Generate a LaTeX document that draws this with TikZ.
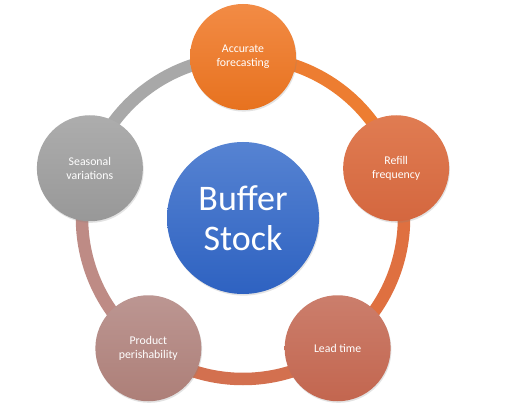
\documentclass[tikz,border=0pt]{standalone}
\usepackage{fontspec}
\setmainfont{Carlito}
\usetikzlibrary{shadows}
\definecolor{cA}{HTML}{ED7D31}
\definecolor{cAt}{HTML}{F28B45}
\definecolor{cAb}{HTML}{E7721F}
\definecolor{cR}{HTML}{DF7040}
\definecolor{cRt}{HTML}{E07C52}
\definecolor{cRb}{HTML}{D4673F}
\definecolor{cL}{HTML}{D3704F}
\definecolor{cLt}{HTML}{CB7E6C}
\definecolor{cLb}{HTML}{C3664F}
\definecolor{cP}{HTML}{BE8B85}
\definecolor{cPt}{HTML}{BC9692}
\definecolor{cPb}{HTML}{AD7F78}
\definecolor{cS}{HTML}{A8A8A8}
\definecolor{cSt}{HTML}{ADADAD}
\definecolor{cSb}{HTML}{989898}
\definecolor{cBt}{HTML}{5683D2}
\definecolor{cBb}{HTML}{2E62C1}
\begin{document}
\begin{tikzpicture}[x=1pt,y=1pt,
  ringseg/.style={line width=12.5pt},
  outer/.style={circle, minimum size=106pt, inner sep=0pt, align=center,
    text=white, font=\fontsize{11.8}{14}\selectfont,
    drop shadow={opacity=0.22, shadow xshift=0.8pt, shadow yshift=-1.6pt}},
  hub/.style={circle, minimum size=152pt, inner sep=0pt, align=center,
    text=white, font=\fontsize{36}{40}\selectfont, top color=cBt, bottom color=cBb,
    drop shadow={opacity=0.22, shadow xshift=0.8pt, shadow yshift=-1.6pt}}
]
\useasboundingbox[fill=white] (0,0) rectangle (524,-411);
\coordinate (C) at (243,-218);
\begin{scope}[shift={(C)}]
  \draw[ringseg, draw=cA] (90:161) arc[start angle=90, end angle=18, radius=161];
  \draw[ringseg, draw=cR] (18:161) arc[start angle=18, end angle=-54, radius=161];
  \draw[ringseg, draw=cL] (-54:161) arc[start angle=-54, end angle=-126, radius=161];
  \draw[ringseg, draw=cP] (-126:161) arc[start angle=-126, end angle=-198, radius=161];
  \draw[ringseg, draw=cS] (162:161) arc[start angle=162, end angle=90, radius=161];
  \node[outer, top color=cAt, bottom color=cAb] (acc) at (90:161) {Accurate\\forecasting};
  \node[outer, top color=cRt, bottom color=cRb] (ref) at (18:161) {Refill\\frequency};
  \node[outer, top color=cLt, bottom color=cLb] (lead) at (-54:161) {Lead time};
  \node[outer, top color=cPt, bottom color=cPb] (prod) at (-126:161) {Product\\perishability};
  \node[outer, top color=cSt, bottom color=cSb] (seas) at (162:161) {Seasonal\\variations};
  \node[hub] (buf) at (0,0) {Buffer\\Stock};
\end{scope}
\end{tikzpicture}
\end{document}
